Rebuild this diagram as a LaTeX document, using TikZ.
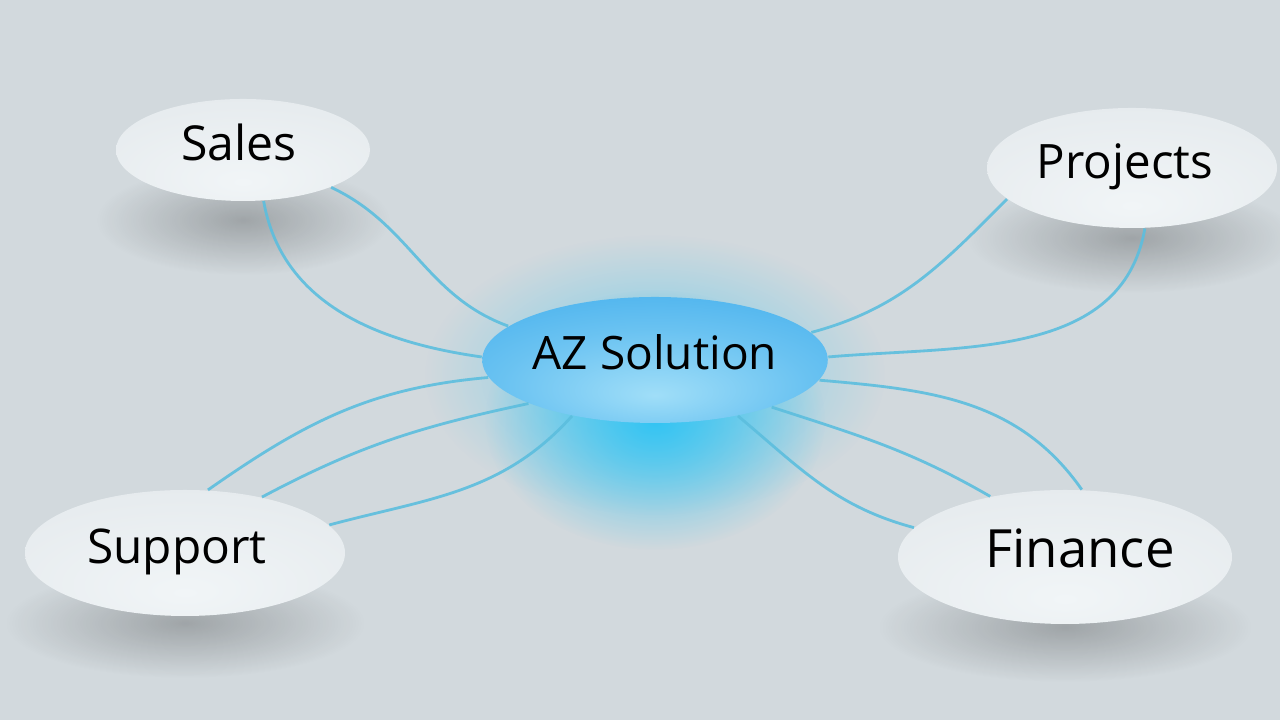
\documentclass[tikz,border=0pt]{standalone}
\usepackage{fontspec}
\setmainfont{Open Sans}
\usetikzlibrary{shapes.geometric,fadings}

\definecolor{bgcol}{RGB}{210,217,221}
\definecolor{bgedge}{RGB}{202,209,214}
\definecolor{linkcol}{RGB}{92,190,222}
\definecolor{azedge}{RGB}{62,172,236}
\definecolor{azmid}{RGB}{160,222,248}
\definecolor{leafedge}{RGB}{219,225,229}
\definecolor{leafmid}{RGB}{241,245,247}
\definecolor{glowcol}{RGB}{40,195,245}

\pgfdeclareradialshading{azball}{\pgfpoint{0bp}{-14bp}}{color(0bp)=(azmid); color(22bp)=(azedge!55!azmid); color(45bp)=(azedge); color(80bp)=(azedge)}
\pgfdeclareradialshading{leafball}{\pgfpoint{0bp}{-16bp}}{color(0bp)=(leafmid); color(35bp)=(leafedge!50!leafmid); color(58bp)=(leafedge); color(80bp)=(leafedge)}
\pgfdeclareradialshading{backdrop}{\pgfpoint{0bp}{0bp}}{color(0bp)=(bgcol); color(35bp)=(bgcol); color(72bp)=(bgedge)}
\tikzfading[name=softspot, inner color=transparent!0, outer color=transparent!100]

\tikzset{
  leaf/.style={ellipse, shading=leafball, inner sep=0pt, text height=0.36cm, text depth=0.14cm},
  hub/.style={ellipse, shading=azball, inner sep=0pt, minimum width=2.96cm, minimum height=1.26cm, text height=0.34cm, text depth=0.14cm},
  link/.style={draw=linkcol, line width=0.8pt, opacity=0.9}
}

\begin{document}
\begin{tikzpicture}
\useasboundingbox (0,0) rectangle (12.8,7.2);
\shade[shading=backdrop] (0,0) rectangle (12.8,7.2);
% glow under the hub
\fill[glowcol, opacity=0.55, path fading=softspot] (6.55,3.45) ellipse (2.3cm and 1.4cm);
\fill[glowcol, opacity=0.9, path fading=softspot] (6.55,3.0) ellipse (1.7cm and 1.3cm);
\foreach \x/\y/\w/\h/\name/\txt/\fs/\xo in {2.43/5.70/2.54/1.02/sales/Sales/13.7/-0.08,11.32/5.52/2.90/1.20/projects/Projects/13.5/-0.14,1.85/1.67/3.20/1.26/support/Support/13.6/-0.16,10.65/1.63/3.34/1.34/finance/Finance/15/0.30}{
 \fill[black, opacity=0.24, path fading=softspot] (\x,\y-0.7) ellipse ({\w/2+0.2} and 0.55);
 \node[leaf, minimum width=\w cm, minimum height=\h cm, font=\fontsize{\fs pt}{18pt}\selectfont] (\name) at (\x,\y) {\hspace*{\xo cm}\txt};
 }
\node[hub, font=\fontsize{13.1pt}{18pt}\selectfont] (az) at (6.55,3.60) {AZ Solution};
% connectors
\draw[link] (sales.337) to[out=-25,in=160] (az.167);
\draw[link] (sales.292) to[out=-80,in=172] (az.179);
\draw[link] (projects.194) to[out=225,in=15] (az.10);
\draw[link] (projects.282) to[out=-100,in=5] (az.1);
\draw[link] (support.70) to[out=35,in=185] (az.186);
\draw[link] (support.36) to[out=28,in=192] (az.199);
\draw[link] (support.11) to[out=15,in=228] (az.214);
\draw[link] (az.353) to[out=-5,in=125] (finance.76);
\draw[link] (az.338) to[out=-18,in=150] (finance.141);
\draw[link] (az.326) to[out=-40,in=165] (finance.169);
\end{tikzpicture}
\end{document}
